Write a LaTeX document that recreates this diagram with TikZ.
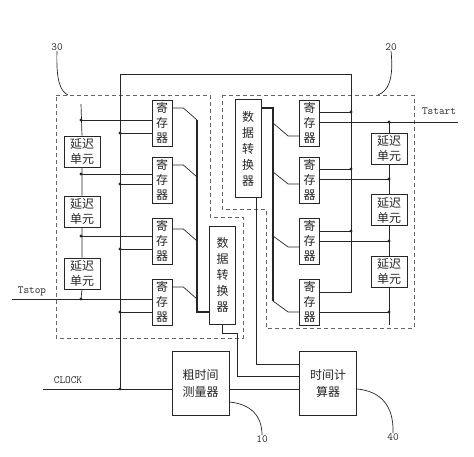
\documentclass[tikz,border=0pt]{standalone}
\usepackage{fontspec}
\newfontfamily\cjk{Noto Sans CJK SC}
\begin{document}
\begin{tikzpicture}[x=1pt,y=-1pt,line width=0.7pt,color=black!85,
  every node/.style={inner sep=0pt},
  box/.style={draw,font=\cjk\fontsize{12}{15}\selectfont,align=center},
  reg/.style={box,minimum width=20pt,minimum height=46pt},
  dly/.style={box,minimum width=36pt,minimum height=31pt},
  conv/.style={box,minimum width=26pt,minimum height=98pt,font=\cjk\fontsize{12}{16}\selectfont},
  unit/.style={box,minimum width=57pt,minimum height=64pt,font=\cjk\fontsize{12}{17}\selectfont},
  grp/.style={dash pattern=on 4pt off 3pt,black!60},
  bus/.style={line width=2.4pt},
  txt/.style={font=\ttfamily\fontsize{11}{11}\selectfont}]
  \useasboundingbox (0,0) rectangle (474,457);

  % dashed groups
  \draw[grp] (56,95) -- (210,95) -- (210,217) -- (243,217) -- (243,338) -- (56,338) -- cycle;
  \draw[grp] (222,95) -- (414,95) -- (414,328) -- (266,328) -- (266,209) -- (222,209) -- cycle;

  % blocks
  \node[reg] (regL1) at (162,123) {寄\\存\\器};
  \node[reg] (regL2) at (162,180) {寄\\存\\器};
  \node[reg] (regL3) at (162,241) {寄\\存\\器};
  \node[reg] (regL4) at (162,302) {寄\\存\\器};
  \node[reg] (regR1) at (309.5,123) {寄\\存\\器};
  \node[reg] (regR2) at (309.5,180) {寄\\存\\器};
  \node[reg] (regR3) at (309.5,241) {寄\\存\\器};
  \node[reg] (regR4) at (309.5,302) {寄\\存\\器};
  \node[dly] (dlyL1) at (82,151.5) {延迟\\单元};
  \node[dly] (dlyL2) at (82,211.5) {延迟\\单元};
  \node[dly] (dlyL3) at (82,273.5) {延迟\\单元};
  \node[dly] (dlyR1) at (389,148.5) {延迟\\单元};
  \node[dly] (dlyR2) at (389,210) {延迟\\单元};
  \node[dly] (dlyR3) at (389,271.5) {延迟\\单元};
  \node[conv] (convL) at (222.5,275) {数\\据\\转\\换\\器};
  \node[conv] (convR) at (248,148.5) {数\\据\\转\\换\\器};
  \node[unit] (coarse) at (200.5,383) {粗时间\\测量器};
  \node[unit] (calc) at (328,383) {时间计\\算器};

  % labels
  \node[txt] (lbl30) at (57,47) {30};
  \node[txt] (lbl20) at (391,47) {20};
  \node[txt] (lbl10) at (262,439) {10};
  \node[txt] (lbl40) at (393,437) {40};
  \node[txt] (lblstop) at (32,291) {Tstop};
  \node[txt] (lblstart) at (439,111) {Tstart};
  \node[txt] (lblclk) at (68,380) {CLOCK};

  % junctions
  \coordinate (tL) at (81,104);
  \coordinate (jL1) at (81,120);
  \coordinate (jL2) at (81,174);
  \coordinate (jL3) at (81,236);
  \coordinate (jL4) at (81,299);
  \coordinate (cL1) at (120,133);
  \coordinate (cL2) at (120,184);
  \coordinate (cL3) at (120,249);
  \coordinate (cL4) at (120,312);
  \coordinate (cClk) at (120,389);
  \coordinate (topL) at (120,74);
  \coordinate (topR) at (351,74);
  \coordinate (cR1) at (351,112);
  \coordinate (cR2) at (351,169);
  \coordinate (cR3) at (351,231);
  \coordinate (cR4) at (351,292);
  \coordinate (jR1) at (389,122);
  \coordinate (jR2) at (389,179);
  \coordinate (jR3) at (389,241);
  \coordinate (jR4) at (389,312);
  \coordinate (bR) at (389,325);
  \coordinate (tstop) at (12,299);
  \coordinate (tstart) at (458,122);
  \coordinate (clk) at (43,389);

  % delay chains
  \draw (tL) -- (dlyL1.north) (dlyL1.south) -- (dlyL2.north)
    (dlyL2.south) -- (dlyL3.north) (dlyL3.south) -- (jL4);
  \draw (jR1) -- (dlyR1.north) (dlyR1.south) -- (dlyR2.north)
    (dlyR2.south) -- (dlyR3.north) (dlyR3.south) -- (bR);
  \draw (tstop) -- (jL4 -| regL4.west);
  \draw (tstart) -- (jR1 -| regR1.east);
  \draw (jL1) -- (jL1 -| regL1.west);
  \draw (jL2) -- (jL2 -| regL2.west);
  \draw (jL3) -- (jL3 -| regL3.west);
  \draw (jR2) -- (jR2 -| regR2.east);
  \draw (jR3) -- (jR3 -| regR3.east);
  \draw (jR4) -- (jR4 -| regR4.east);

  % clock
  \draw (clk) -- (clk -| coarse.west);
  \draw (cClk) -- (topL) -- (topR) -- (cR4) -- (cR4 -| regR4.east);
  \draw (cL1) -- (cL1 -| regL1.west);
  \draw (cL2) -- (cL2 -| regL2.west);
  \draw (cL3) -- (cL3 -| regL3.west);
  \draw (cL4) -- (cL4 -| regL4.west);
  \draw (cR1) -- (cR1 -| regR1.east);
  \draw (cR2) -- (cR2 -| regR2.east);
  \draw (cR3) -- (cR3 -| regR3.east);
  \foreach \p in {jL1,jL2,jL3,jL4,cL1,cL2,cL3,cL4,cClk,cR1,cR2,cR3,jR1,jR2,jR3,jR4}
    \fill (\p) circle (1.6);

  % register outputs and buses
  \draw (regL1.east |- 0,108) -- ++(11,0) -- (197,120);
  \draw (regL2.east |- 0,165) -- ++(11,0) -- (197,177);
  \draw (regL3.east |- 0,229) -- ++(11,0) -- (197,241);
  \draw (regL4.east |- 0,287) -- ++(11,0) -- (197,299);
  \draw[bus] (197,120) -- (197,312) -- (convL.west |- 0,312);
  \draw (regR1.west |- 0,136) -- ++(-11,0) -- (273,123);
  \draw (regR2.west |- 0,184) -- ++(-11,0) -- (273,172);
  \draw (regR3.west |- 0,247) -- ++(-11,0) -- (273,236);
  \draw (regR4.west |- 0,312) -- ++(-11,0) -- (273,301);
  \draw[bus] (convR.east |- 0,108) -- (273,108) -- (273,301);

  % to time calculator
  \draw (convL.south) |- (237,333) |- (calc.west |- 0,376);
  \draw ([xshift=8pt]convR.south) |- (calc.west |- 0,364);
  \draw (coarse.east |- cClk) -- (calc.west |- cClk);

  % leaders
  \draw (lbl30.south) .. controls (56,80) and (60,91) .. (68,95);
  \draw (lbl20.south) .. controls (394,80) and (388,91) .. (378,95);
  \draw (coarse.east |- 0,402) .. controls (250,404) and (262,415) .. (lbl10.north);
  \draw (calc.east |- 0,389) .. controls (380,391) and (394,405) .. (lbl40.north);
\end{tikzpicture}
\end{document}
